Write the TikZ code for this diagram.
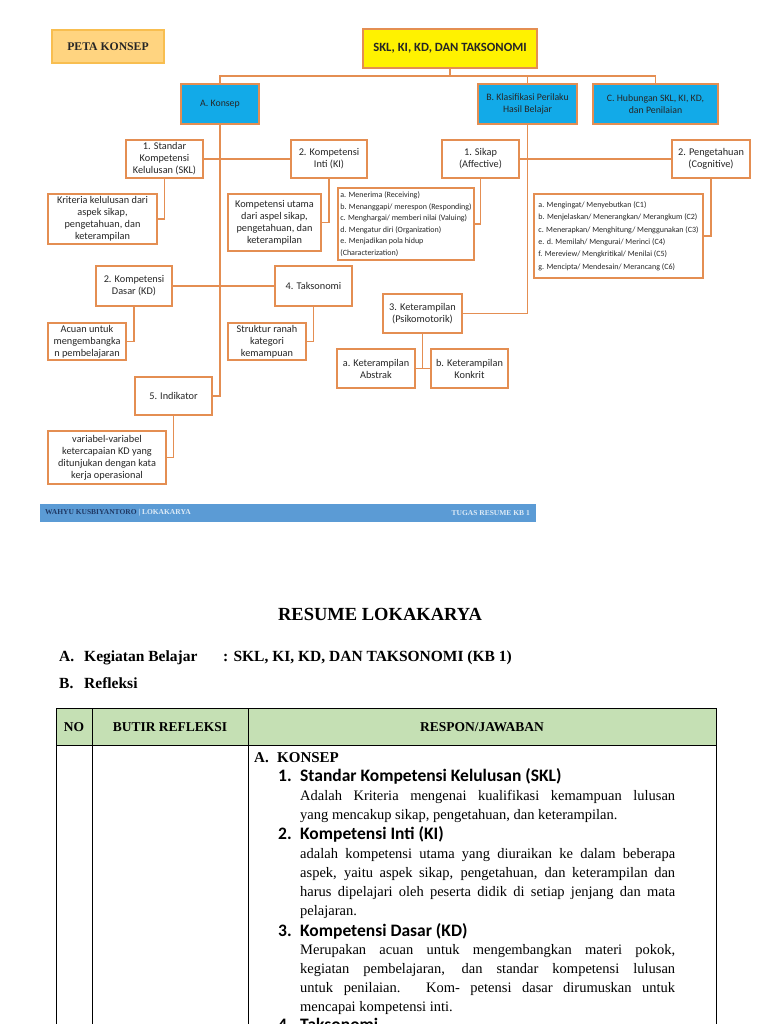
\documentclass[tikz,border=0pt]{standalone}
\usepackage{fontspec}
\setmainfont{Carlito}
\newfontfamily\cambria{Liberation Serif}
\usepackage{xcolor}

\definecolor{boxline}{RGB}{228,142,82}
\definecolor{konsepblue}{RGB}{18,170,232}
\definecolor{petafill}{RGB}{255,212,128}
\definecolor{petaline}{RGB}{248,190,80}
\definecolor{barblue}{RGB}{91,155,213}
\definecolor{navy}{RGB}{31,56,100}
\definecolor{barlight}{RGB}{222,235,247}
\definecolor{headgreen}{RGB}{197,224,180}

\tikzset{
  conn/.style={draw=boxline, line width=1.2pt},
  box/.style={draw=boxline, line width=1.2pt, fill=white, align=center, inner sep=1pt,
    text=black!85, font=\fontsize{10.3}{12}\selectfont},
  bluebox/.style={box, fill=konsepblue, font=\fontsize{9.8}{12}\selectfont},
  listbox/.style={box, align=left, inner sep=0pt, font=\fontsize{8}{11.5}\selectfont},
  head/.style={inner sep=0, font=\cambria\bfseries\fontsize{13.5}{15}\selectfont},
  body/.style={anchor=base west, inner sep=0, font=\cambria\fontsize{14.5}{19}\selectfont},
  subhead/.style={anchor=base west, inner sep=0, font=\bfseries\fontsize{17.5}{20}\selectfont}
}

\begin{document}
\begin{tikzpicture}[x=1pt,y=-1pt]
\useasboundingbox (0,0) rectangle (768,1024);
\clip (0,0) rectangle (768,1024);
\fill[white] (0,0) rectangle (768,1024);

% peta konsep
\node[box, fill=petafill, draw=petaline, minimum width=112, minimum height=33,
  font=\cambria\bfseries\fontsize{11.7}{13}\selectfont] (peta) at (108,46.5) {PETA KONSEP};
\node[box, fill=yellow, minimum width=174, minimum height=39,
  font=\bfseries\fontsize{12.6}{14}\selectfont] (top) at (450,48.5) {SKL, KI, KD, DAN TAKSONOMI};

\node[bluebox, minimum width=78, minimum height=40] (konsep) at (220,104) {A. Konsep};
\node[bluebox, minimum width=99, minimum height=40] (klas) at (527.5,104) {B. Klasifikasi Perilaku\\Hasil Belajar};
\node[bluebox, minimum width=125, minimum height=40] (hub) at (655.5,104) {C. Hubungan SKL, KI, KD,\\dan Penilaian};
\coordinate (bar) at (0,76);

% A. Konsep
\node[box, minimum width=77, minimum height=38] (skl) at (164.5,159) {1. Standar\\Kompetensi\\Kelulusan (SKL)};
\node[box, minimum width=76, minimum height=38] (ki) at (329,159) {2. Kompetensi\\Inti (KI)};
\node[box, minimum width=109, minimum height=50] (kriteria) at (102.5,219) {Kriteria kelulusan dari\\aspek sikap,\\pengetahuan, dan\\keterampilan};
\node[box, minimum width=93, minimum height=57] (utama) at (274.5,222.5) {Kompetensi utama\\dari aspel sikap,\\pengetahuan, dan\\keterampilan};
\node[box, minimum width=76, minimum height=40] (kd) at (134,286) {2. Kompetensi\\Dasar (KD)};
\node[box, minimum width=77, minimum height=40] (tak) at (313.5,286) {4. Taksonomi};
\node[box, minimum width=78, minimum height=37] (acuan) at (87,341.5) {Acuan untuk\\mengembangka\\n pembelajaran};
\node[box, minimum width=78, minimum height=37] (struktur) at (267,341.5) {Struktur ranah\\kategori\\kemampuan};
\node[box, minimum width=77, minimum height=38] (indikator) at (173.5,396) {5. Indikator};
\node[box, minimum width=118, minimum height=53] (variabel) at (107,457.5) {variabel-variabel\\ketercapaian KD yang\\ditunjukan dengan kata\\kerja operasional};

% B. Klasifikasi
\node[box, minimum width=77, minimum height=38] (sikap) at (480.5,159) {1. Sikap\\(Affective)};
\node[box, minimum width=78, minimum height=38] (peng) at (711,159) {2. Pengetahuan\\(Cognitive)};
\node[listbox, minimum width=136, minimum height=72] (afektif) at (406,224) {a. Menerima (Receiving)\\b. Menanggapi/ merespon (Responding)\\c. Menghargai/ memberi nilai (Valuing)\\d. Mengatur diri (Organization)\\e. Menjadikan pola hidup\\(Characterization)};
\node[listbox, minimum width=169, minimum height=84, font=\fontsize{8}{12.4}\selectfont] (kognitif) at (618.5,236) {a. Mengingat/ Menyebutkan (C1)\\b. Menjelaskan/ Menerangkan/ Merangkum (C2)\\c. Menerapkan/ Menghitung/ Menggunakan (C3)\\e. d. Memilah/ Mengurai/ Merinci (C4)\\f. Mereview/ Mengkritikal/ Menilai (C5)\\g. Mencipta/ Mendesain/ Merancang (C6)};
\node[box, minimum width=79, minimum height=39] (ket) at (422.5,313.5) {3. Keterampilan\\(Psikomotorik)};
\node[box, minimum width=78, minimum height=39] (abstrak) at (376,368.5) {a. Keterampilan\\Abstrak};
\node[box, minimum width=77, minimum height=39] (konkrit) at (469.5,368.5) {b. Keterampilan\\Konkrit};

% connectors
\draw[conn] (top.south) -- (top.south |- bar);
\draw[conn] (konsep.north) |- (hub.north |- bar) -- (hub.north);
\draw[conn] (klas.north) -- (klas.north |- bar);
\draw[conn] (konsep.south) |- (indikator.east);
\draw[conn] (skl.east) -- (ki.west);
\draw[conn] (kd.east) -- (tak.west);
\draw[conn] (skl.south) |- (kriteria.east);
\draw[conn] (ki.south) |- (utama.east);
\draw[conn] (kd.south) |- (acuan.east);
\draw[conn] (tak.south) |- (struktur.east);
\draw[conn] (indikator.south) |- (variabel.east);
\draw[conn] (klas.south) |- (ket.east);
\draw[conn] (sikap.east) -- (peng.west);
\draw[conn] (sikap.south) |- (afektif.east);
\draw[conn] (peng.south) |- (kognitif.east);
\draw[conn] (ket.south) -- (ket.south |- abstrak.east);
\draw[conn] (abstrak.east) -- (konkrit.west);

% footer
\fill[barblue] (40,504) rectangle (536,522);
\node[anchor=west, inner sep=0, font=\cambria\bfseries\fontsize{7.5}{8}\selectfont] (nama) at (45,513)
  {\textcolor{navy}{WAHYU KUSBIYANTORO} \textcolor{barlight}{| LOKAKARYA}};
\node[anchor=east, inner sep=0, font=\cambria\bfseries\fontsize{7.5}{8}\selectfont, text=barlight] (tugas) at (530,513) {TUGAS RESUME KB 1};

% resume
\node[inner sep=0, font=\cambria\bfseries\fontsize{18.5}{22}\selectfont] (judul) at (380,614) {RESUME LOKAKARYA};
\foreach \x/\y/\z/\n in {59/661/A./kbA, 84/661/Kegiatan Belajar/kbB, 223/661/{: SKL, KI, KD, DAN TAKSONOMI (KB 1)}/kbC, 59/688/B./rfA, 84/688/Refleksi/rfB}
  \node[anchor=base west, inner sep=0, font=\cambria\bfseries\fontsize{15.5}{18}\selectfont] (\n) at (\x,\y) {\z};

% table
\fill[headgreen] (56,708) rectangle (716,745);
\draw[line width=1pt] (56,1030) -- (56,708) -- (716,708) -- (716,1030);
\draw[line width=1pt] (56,745) -- (716,745);
\draw[line width=1pt] (92,708) -- (92,1030);
\draw[line width=1pt] (248,708) -- (248,1030);
\node[head] (no) at (74,727) {NO};
\node[head] (butir) at (170,727) {BUTIR REFLEKSI};
\node[head] (respon) at (482,727) {RESPON/JAWABAN};

\node[anchor=base west, inner sep=0, font=\cambria\bfseries\fontsize{15}{18}\selectfont] (konA) at (254,762) {A.};
\node[anchor=base west, inner sep=0, font=\cambria\bfseries\fontsize{15}{18}\selectfont] (konB) at (277,762) {KONSEP};
\foreach \y/\a/\b in {781/1./Standar Kompetensi Kelulusan (SKL), 839/2./Kompetensi Inti (KI), 936/3./Kompetensi Dasar (KD), 1030/4./Taksonomi}
{
  \node[subhead] (n\y) at (278,\y) {\a};
  \node[subhead] (h\y) at (300,\y) {\b};
}
\foreach \y/\t in {800/{Adalah Kriteria mengenai kualifikasi kemampuan lulusan},
  858/{adalah kompetensi utama yang diuraikan ke dalam beberapa},
  877/{aspek, yaitu aspek sikap, pengetahuan, dan keterampilan dan},
  896/{harus dipelajari oleh peserta didik di setiap jenjang dan mata},
  954/{Merupakan acuan untuk mengembangkan materi pokok,},
  973/{kegiatan pembelajaran, dan standar kompetensi lulusan},
  992/{untuk penilaian. Kom- petensi dasar dirumuskan untuk}}
  \node[body] (p\y) at (300,\y) {\makebox[375pt][s]{\t}};
\foreach \y/\t in {819/{yang mencakup sikap, pengetahuan, dan keterampilan.},
  915/{pelajaran.}, 1011/{mencapai kompetensi inti.}}
  \node[body] (p\y) at (300,\y) {\t};
\end{tikzpicture}
\end{document}
